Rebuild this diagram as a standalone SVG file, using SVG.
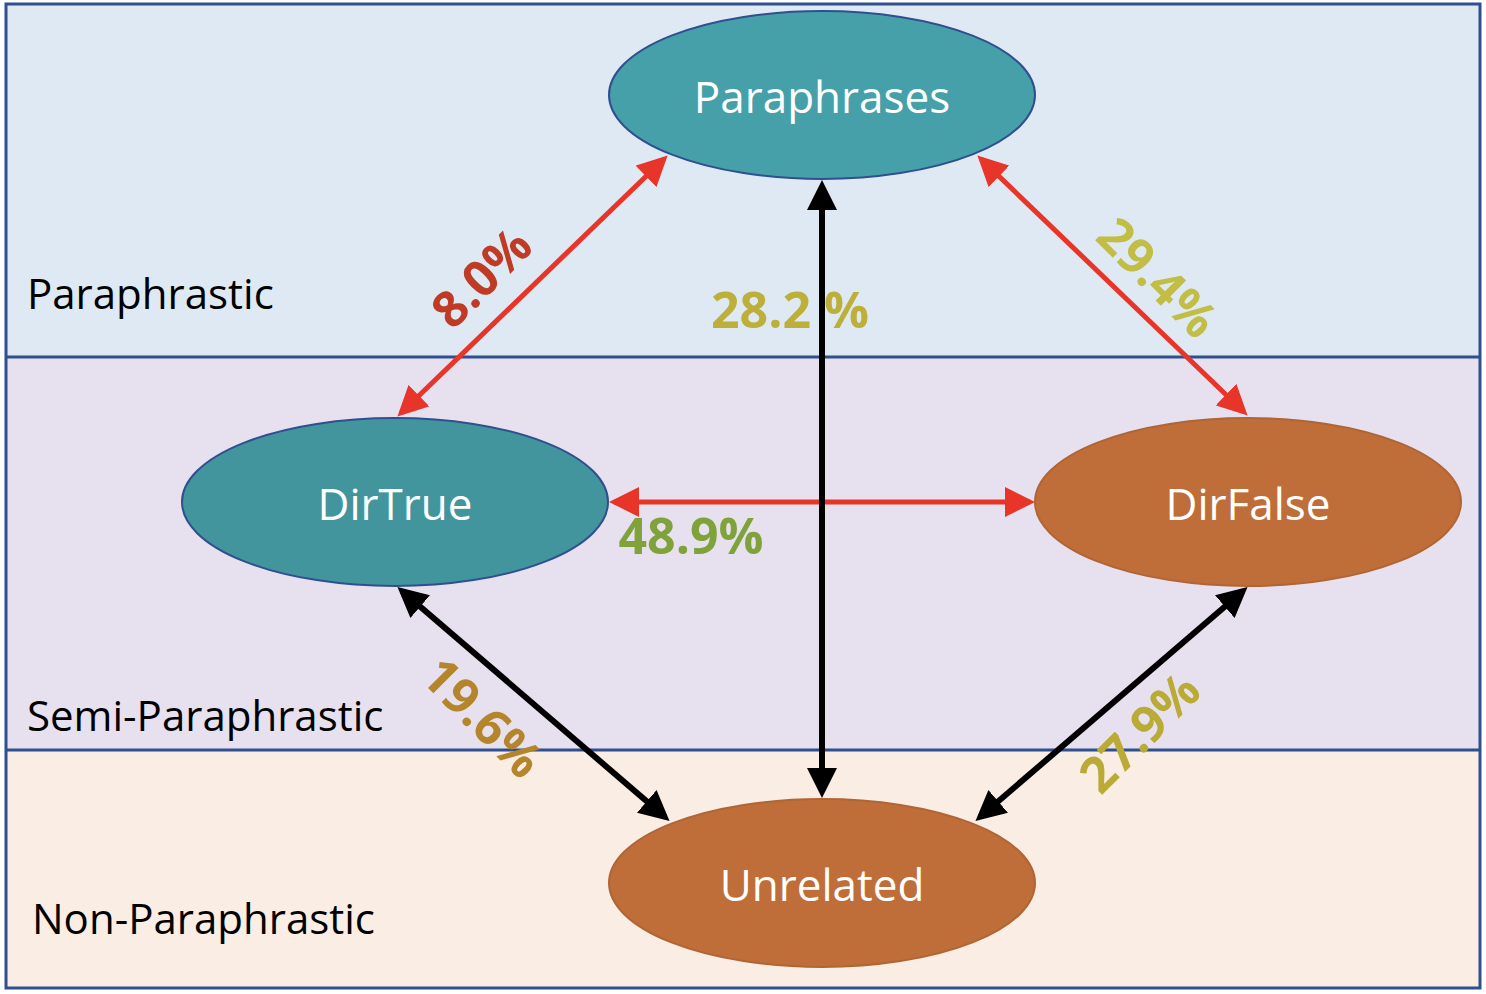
<svg xmlns="http://www.w3.org/2000/svg" width="1486" height="994" viewBox="0 0 1486 994">
<style>
.node{stroke:#2f4f8f;stroke-width:2}
.teal{fill:#46a0aa}
.orange{fill:#c06e39;stroke:#b06535}
.nl{font-family:"Open Sans","DejaVu Sans",sans-serif;font-size:44px;fill:#fff;text-anchor:middle}
.band{font-family:"Open Sans","DejaVu Sans",sans-serif;font-size:42px;fill:#000}
.pct{font-family:"Open Sans","DejaVu Sans",sans-serif;font-size:50px;font-weight:bold;text-anchor:middle}
.red{stroke:#e8352a;stroke-width:5;fill:none;marker-start:url(#rs);marker-end:url(#re)}
.blk{stroke:#000;stroke-width:6;fill:none;marker-start:url(#bs);marker-end:url(#be)}
</style>
<defs>
<marker id="re" markerWidth="6" markerHeight="6" refX="5" refY="3" orient="auto" markerUnits="strokeWidth"><path d="M0,0L6,3L0,6z" fill="#e8352a"/></marker>
<marker id="rs" markerWidth="6" markerHeight="6" refX="1" refY="3" orient="auto" markerUnits="strokeWidth"><path d="M6,0L0,3L6,6z" fill="#e8352a"/></marker>
<marker id="be" markerWidth="5" markerHeight="5" refX="4" refY="2.5" orient="auto" markerUnits="strokeWidth"><path d="M0,0L5,2.5L0,5z" fill="#000"/></marker>
<marker id="bs" markerWidth="5" markerHeight="5" refX="1" refY="2.5" orient="auto" markerUnits="strokeWidth"><path d="M5,0L0,2.5L5,5z" fill="#000"/></marker>
</defs>
<rect x="0" y="0" width="1486" height="994" fill="#fff"/>
<g id="bands">
<rect x="6" y="4" width="1474" height="353" fill="#dfe9f3"/>
<rect x="6" y="357" width="1474" height="393" fill="#e7e0ef"/>
<rect x="6" y="750" width="1474" height="238" fill="#f9ede4"/>
<rect x="6" y="4" width="1474" height="984" fill="none" stroke="#2f4f8f" stroke-width="3"/>
<line x1="6" y1="357" x2="1480" y2="357" stroke="#2f4f8f" stroke-width="3"/>
<line x1="6" y1="750" x2="1480" y2="750" stroke="#2f4f8f" stroke-width="3"/>
<text class="band" x="27" y="309">Paraphrastic</text>
<text class="band" x="27" y="731">Semi-Paraphrastic</text>
<text class="band" x="32" y="934">Non-Paraphrastic</text>
</g>
<g id="connectors">
<line class="red" x1="664" y1="159" x2="401" y2="413"/>
<line class="red" x1="981" y1="159" x2="1244" y2="412"/>
<line class="red" x1="614" y1="502" x2="1030" y2="502"/>
<line class="blk" x1="822" y1="186" x2="822" y2="792"/>
<line class="blk" x1="402" y1="591" x2="665" y2="817"/>
<line class="blk" x1="1243" y1="591" x2="980" y2="817"/>
</g>
<g id="paraphrases"><ellipse class="node teal" cx="822" cy="95" rx="213" ry="84"/><text class="nl" x="822" y="113">Paraphrases</text></g>
<g id="dirtrue"><ellipse class="node teal" cx="395" cy="502" rx="213" ry="84" fill="#43959d" style="fill:#43959d"/><text class="nl" x="395" y="520">DirTrue</text></g>
<g id="dirfalse"><ellipse class="node orange" cx="1248" cy="502" rx="213" ry="84"/><text class="nl" x="1248" y="520">DirFalse</text></g>
<g id="unrelated"><ellipse class="node orange" cx="822" cy="883" rx="213" ry="84"/><text class="nl" x="822" y="901">Unrelated</text></g>
<g id="labels">
<text class="pct" fill="#bf3b25" transform="translate(494,290) rotate(-45)">8.0%</text>
<text class="pct" fill="#bdb03a" x="790" y="328">28.2 %</text>
<text class="pct" fill="#c2bd45" transform="translate(1145,290) rotate(45)">29.4%</text>
<text class="pct" fill="#7fa33a" x="691" y="554">48.9%</text>
<text class="pct" fill="#b5852b" transform="translate(470,730) rotate(45)">19.6%</text>
<text class="pct" fill="#b9ab35" transform="translate(1152,745) rotate(-45)">27.9%</text>
</g>
</svg>
